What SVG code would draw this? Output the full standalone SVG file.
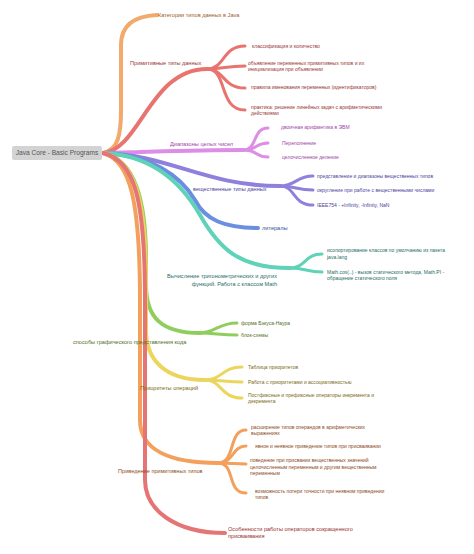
<svg xmlns="http://www.w3.org/2000/svg" width="474" height="554" viewBox="0 0 474 554">
<style>
  .b{fill:none;stroke-linecap:round;stroke-width:4;}
  .s{fill:none;stroke-linecap:round;stroke-width:3;}
  .t{font-family:"Liberation Sans",Arial,sans-serif;font-size:5.6px;}
  .st{font-family:"Liberation Sans",Arial,sans-serif;font-size:5px;}
  .or{stroke:#f2a96b}.rd{stroke:#e8736f}.mg{stroke:#dc8ee6}.vi{stroke:#8f80dd}
  .bl{stroke:#6b8fe0}.te{stroke:#5fd2b8}.gr{stroke:#8fcd5c}.ye{stroke:#ecd55c}
  .or2{stroke:#f2a05c}.rd2{stroke:#e57575}
  .c-or{fill:#a0582a}.c-rd{fill:#9a3434}.c-mg{fill:#9d46a8}.c-vi{fill:#4c3f9c}
  .c-bl{fill:#2f4e9a}.c-te{fill:#1f6e66}.c-gr{fill:#4f7124}.c-ye{fill:#7a6a14}
  .c-or2{fill:#8c4a1c}.c-rd2{fill:#9a2e2e}
</style>
<rect width="474" height="554" fill="#ffffff"/>
<g id="connectors">
  <path class="b or" d="M103,153 C118,150 121,135 121,110 L121,45 C121,25 135,16 157,15"/>
  <path class="b rd" d="M103,153 C140,150 150,69 207,69"/>
  <path class="s rd" d="M207,69 C225,69 222,46 245,46"/>
  <path class="s rd" d="M207,69 C225,69 225,66 245,66"/>
  <path class="s rd" d="M207,69 C225,69 222,88 245,88"/>
  <path class="s rd" d="M207,69 C228,69 218,110 245,110"/>
  <path class="b mg" d="M103,153 C150,152 190,150 243,150"/>
  <path class="s mg" d="M243,150 C258,150 252,128 268,128"/>
  <path class="s mg" d="M243,150 C258,150 255,143 268,143"/>
  <path class="s mg" d="M243,150 C258,150 255,157 268,157"/>
  <path class="b vi" d="M103,153 C170,155 205,186 280,186"/>
  <path class="s vi" d="M280,186 C296,186 296,176 313,176"/>
  <path class="s vi" d="M280,186 C296,186 296,190 313,190"/>
  <path class="s vi" d="M280,186 C296,186 292,205 313,205"/>
  <path class="b bl" d="M103,153 C150,155 180,175 195,200 C205,220 225,228 258,228"/>
  <path class="b te" d="M103,153 C150,155 180,180 200,215 C220,250 240,268 290,268"/>
  <path class="s te" d="M290,268 C306,268 304,254 322,254"/>
  <path class="s te" d="M290,268 C306,268 306,272 322,272"/>
  <path class="b gr" d="M103,153 C135,160 146,200 146,260 L146,285 C146,318 162,333 200,333"/>
  <path class="s gr" d="M200,333 C215,333 218,323 237,323"/>
  <path class="s gr" d="M200,333 C215,333 220,335 237,335"/>
  <path class="b ye" d="M103,153 C135,160 146,200 146,280 L146,330 C146,360 165,380 205,380"/>
  <path class="s ye" d="M205,380 C222,380 222,367 242,367"/>
  <path class="s ye" d="M205,380 C222,380 225,382 242,382"/>
  <path class="s ye" d="M205,380 C222,380 220,398 242,398"/>
  <path class="b or2" d="M103,153 C130,160 140,200 140,300 L140,420 C140,450 170,463 218,463"/>
  <path class="s or2" d="M218,463 C236,463 228,430 246,430"/>
  <path class="s or2" d="M218,463 C234,463 232,446 246,446"/>
  <path class="s or2" d="M218,463 C234,463 232,464 246,464"/>
  <path class="s or2" d="M218,463 C236,463 226,493 246,493"/>
  <path class="b rd2" d="M103,153 C135,160 145,200 145,300 L145,480 C145,510 175,533 225,533"/>
</g>
<g id="root">
  <rect x="12" y="146" width="90" height="14" rx="2" fill="#d3d3d3"/>
  <text x="57" y="155.2" class="t" text-anchor="middle" style="font-size:6.6px" fill="#555555">Java Core - Basic Programs</text>
</g>
<g id="n-categories"><text x="158" y="17" class="t c-or">Категории типов данных в Java</text></g>
<g id="n-primitive">
  <text x="130" y="65" class="t c-rd">Примитивные типы данных</text>
  <text x="252" y="47.5" class="st c-rd">классификация и количество</text>
  <text x="248" y="65" class="st c-rd">объявление переменных примитивных типов и их</text>
  <text x="248" y="71" class="st c-rd">инициализация при объявлении</text>
  <text x="251" y="89" class="st c-rd">правила именования переменных (идентификаторов)</text>
  <text x="251" y="109" class="st c-rd">практика: решение линейных задач с арифметическими</text>
  <text x="251" y="115" class="st c-rd">действиями</text>
</g>
<g id="n-ranges">
  <text x="170" y="146" class="t c-mg">Диапазоны целых чисел</text>
  <text x="281" y="129" class="st c-mg">двоичная арифметика в ЭВМ</text>
  <text x="282" y="145" class="st c-mg">Переполнение</text>
  <text x="282" y="159" class="st c-mg">целочисленное деление</text>
</g>
<g id="n-real">
  <text x="193" y="191" class="t c-vi">вещественные типы данных</text>
  <text x="317" y="178" class="st c-vi">представление и диапазоны вещественных типов</text>
  <text x="317" y="192" class="st c-vi">округление при работе с вещественными числами</text>
  <text x="317" y="207" class="st c-vi">IEEE754 - +Infinity, -Infinity, NaN</text>
</g>
<g id="n-literals"><text x="262" y="230" class="t c-bl">литералы</text></g>
<g id="n-math">
  <text x="277" y="278" class="t c-te" text-anchor="end">Вычисление тригонометрических и других</text>
  <text x="277" y="286" class="t c-te" text-anchor="end">функций. Работа с классом Math</text>
  <text x="327" y="252" class="st c-te">исопортирование классов по умолчанию из пакета</text>
  <text x="327" y="258.5" class="st c-te">java.lang</text>
  <text x="327" y="273.5" class="st c-te">Math.cos(..) - вызов статического метода, Math.PI -</text>
  <text x="327" y="280" class="st c-te">обращение статического поля</text>
</g>
<g id="n-graphic">
  <text x="73" y="344" class="t c-gr">способы графического представления кода</text>
  <text x="241" y="325" class="st c-gr">форма Бэкуса-Наура</text>
  <text x="241" y="337" class="st c-gr">блок-схемы</text>
</g>
<g id="n-priority">
  <text x="140" y="390" class="t c-ye">Приоритеты операций</text>
  <text x="248" y="369" class="st c-ye">Таблица приоритетов</text>
  <text x="248" y="384" class="st c-ye">Работа с приоритетами и ассоциативностью</text>
  <text x="248" y="397" class="st c-ye">Постфиксные и префиксные операторы инкремента и</text>
  <text x="248" y="403" class="st c-ye">декремента</text>
</g>
<g id="n-cast">
  <text x="118" y="473" class="t c-or2">Приведение примитивных типов</text>
  <text x="251" y="429" class="st c-or2">расширение типов операндов в арифметических</text>
  <text x="251" y="435" class="st c-or2">выражениях</text>
  <text x="255" y="448" class="st c-or2">явное и неявное приведение типов при присваивании</text>
  <text x="250" y="462" class="st c-or2">поведение при присвании вещественных значений</text>
  <text x="250" y="468.5" class="st c-or2">целочисленным переменным и другим вещественным</text>
  <text x="250" y="475" class="st c-or2">переменным</text>
  <text x="255" y="493" class="st c-or2">возможность потери точности при неявном приведении</text>
  <text x="255" y="499" class="st c-or2">типов</text>
</g>
<g id="n-compound">
  <text x="228" y="531" class="t c-rd2">Особенности работы операторов сокращенного</text>
  <text x="228" y="538" class="t c-rd2">присваивания</text>
</g>
</svg>
